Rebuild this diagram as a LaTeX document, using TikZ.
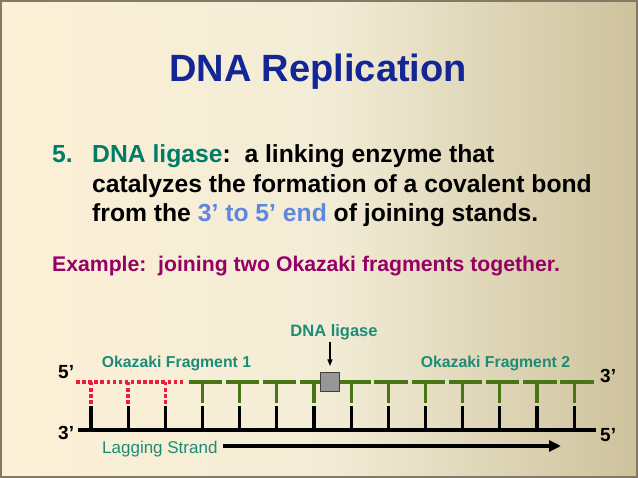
\documentclass[tikz,border=0pt]{standalone}
\usepackage{fontspec}
\setmainfont{Liberation Sans}
\usetikzlibrary{arrows.meta}
\definecolor{bgL}{RGB}{253,240,214}
\definecolor{bgM}{RGB}{242,236,214}
\definecolor{bgR}{RGB}{206,194,156}
\definecolor{frame}{RGB}{130,122,100}
\definecolor{titleblue}{RGB}{18,38,150}
\definecolor{tealdark}{RGB}{0,125,105}
\definecolor{teallab}{RGB}{28,140,120}
\definecolor{lightblue}{RGB}{95,135,225}
\definecolor{magentaex}{RGB}{150,0,100}
\definecolor{strandgreen}{RGB}{72,118,22}
\definecolor{dotred}{RGB}{232,30,60}
\definecolor{ligasegray}{RGB}{150,150,150}
\tikzset{
  titletext/.style={font=\bfseries\fontsize{38}{40}\selectfont, text=titleblue, inner sep=0pt, anchor=base},
  bodytext/.style={font=\bfseries\fontsize{24.7}{29.5}\selectfont, inner sep=0pt, anchor=base west},
  exampletext/.style={font=\bfseries\fontsize{21.2}{24}\selectfont, text=magentaex, inner sep=0pt, anchor=base west},
  fraglabel/.style={font=\bfseries\fontsize{15.8}{18}\selectfont, text=teallab, inner sep=0pt, anchor=base},
  endlabel/.style={font=\bfseries\fontsize{19}{21}\selectfont, inner sep=0pt, anchor=base west},
  backbone/.style={line width=3.5pt},
  blackrung/.style={line width=3.2pt},
  greenbar/.style={strandgreen, line width=4pt},
  greenrung/.style={strandgreen, line width=3.2pt},
  reddots/.style={dotred, line width=3.5pt, dash pattern=on 3.5pt off 2.6pt},
  ligasebox/.style={draw=black!75, fill=ligasegray, line width=1.6pt, minimum size=19pt, inner sep=0pt},
}
\begin{document}
\begin{tikzpicture}[x=1pt,y=-1pt]
\useasboundingbox (0,0) rectangle (638,478);
% background
\shade[left color=bgL, right color=bgM] (0,0) rectangle (330,478);
\shade[left color=bgM, right color=bgR] (330,0) rectangle (638,478);
\draw[frame, line width=1.6pt] (0.8,0.8) rectangle (637.2,477.2);

% title
\node[titletext] (title) at (318,82) {DNA Replication};

% body
\node[bodytext, text=tealdark] (num) at (52,163) {5.};
\node[bodytext] (line1) at (92,163) {\textcolor{tealdark}{DNA ligase}:\ \ a linking enzyme that};
\node[bodytext] (line2) at (92,192.5) {catalyzes the formation of a covalent bond};
\node[bodytext] (line3) at (92,222) {from the \textcolor{lightblue}{3’ to 5’ end} of joining stands.};

\node[exampletext] (example) at (52,272) {Example:\ \ joining two Okazaki fragments together.};

% strand labels
\node[endlabel] (l5) at (58,379) {5’};
\node[endlabel] (l3) at (58,440) {3’};
\node[endlabel] (r3) at (600,383) {3’};
\node[endlabel] (r5) at (600,442) {5’};

% bottom (lagging template) strand
\coordinate (bL) at (78,430);
\coordinate (bR) at (596,430);
\draw[backbone] (bL) -- (bR);
\foreach \i in {0,...,13} {
  \draw[blackrung] ({91+37.17*\i},431) -- ({91+37.17*\i},406.5);
}

% RNA primer (red dotted)
\draw[reddots] (76,382) -- (184,382);
\foreach \i in {0,1,2} {
  \draw[reddots] ({91+37.17*\i},382) -- ({91+37.17*\i},405);
}

% Okazaki fragments (green)
\foreach \i in {3,...,13} {
  \draw[greenbar] ({91+37.17*\i-14},382) -- ({91+37.17*\i+19.5},382);
  \draw[greenrung] ({91+37.17*\i},382) -- ({91+37.17*\i},403.5);
}

% DNA ligase
\node[ligasebox] (sq) at (330,382) {};
\node[fraglabel, font=\bfseries\fontsize{16.5}{18}\selectfont] (lig) at (334,337) {DNA ligase};
\draw[line width=1.3pt, -{Triangle[length=6.5pt,width=5pt]}] (330,342) -- (sq.north |- 0,366);

\node[fraglabel] (f1) at (176.5,368) {Okazaki Fragment 1};
\node[fraglabel] (f2) at (495.5,368) {Okazaki Fragment 2};

% lagging strand
\node[font=\fontsize{17}{19}\selectfont, text=teallab, inner sep=0pt, anchor=base west] (lag) at (102,453.5) {Lagging Strand};
\coordinate (lagend) at (561,446);
\draw[line width=3.3pt, -{Triangle[length=12pt,width=11pt]}] ([xshift=5pt]lag.east |- lagend) -- (lagend);
\end{tikzpicture}
\end{document}
